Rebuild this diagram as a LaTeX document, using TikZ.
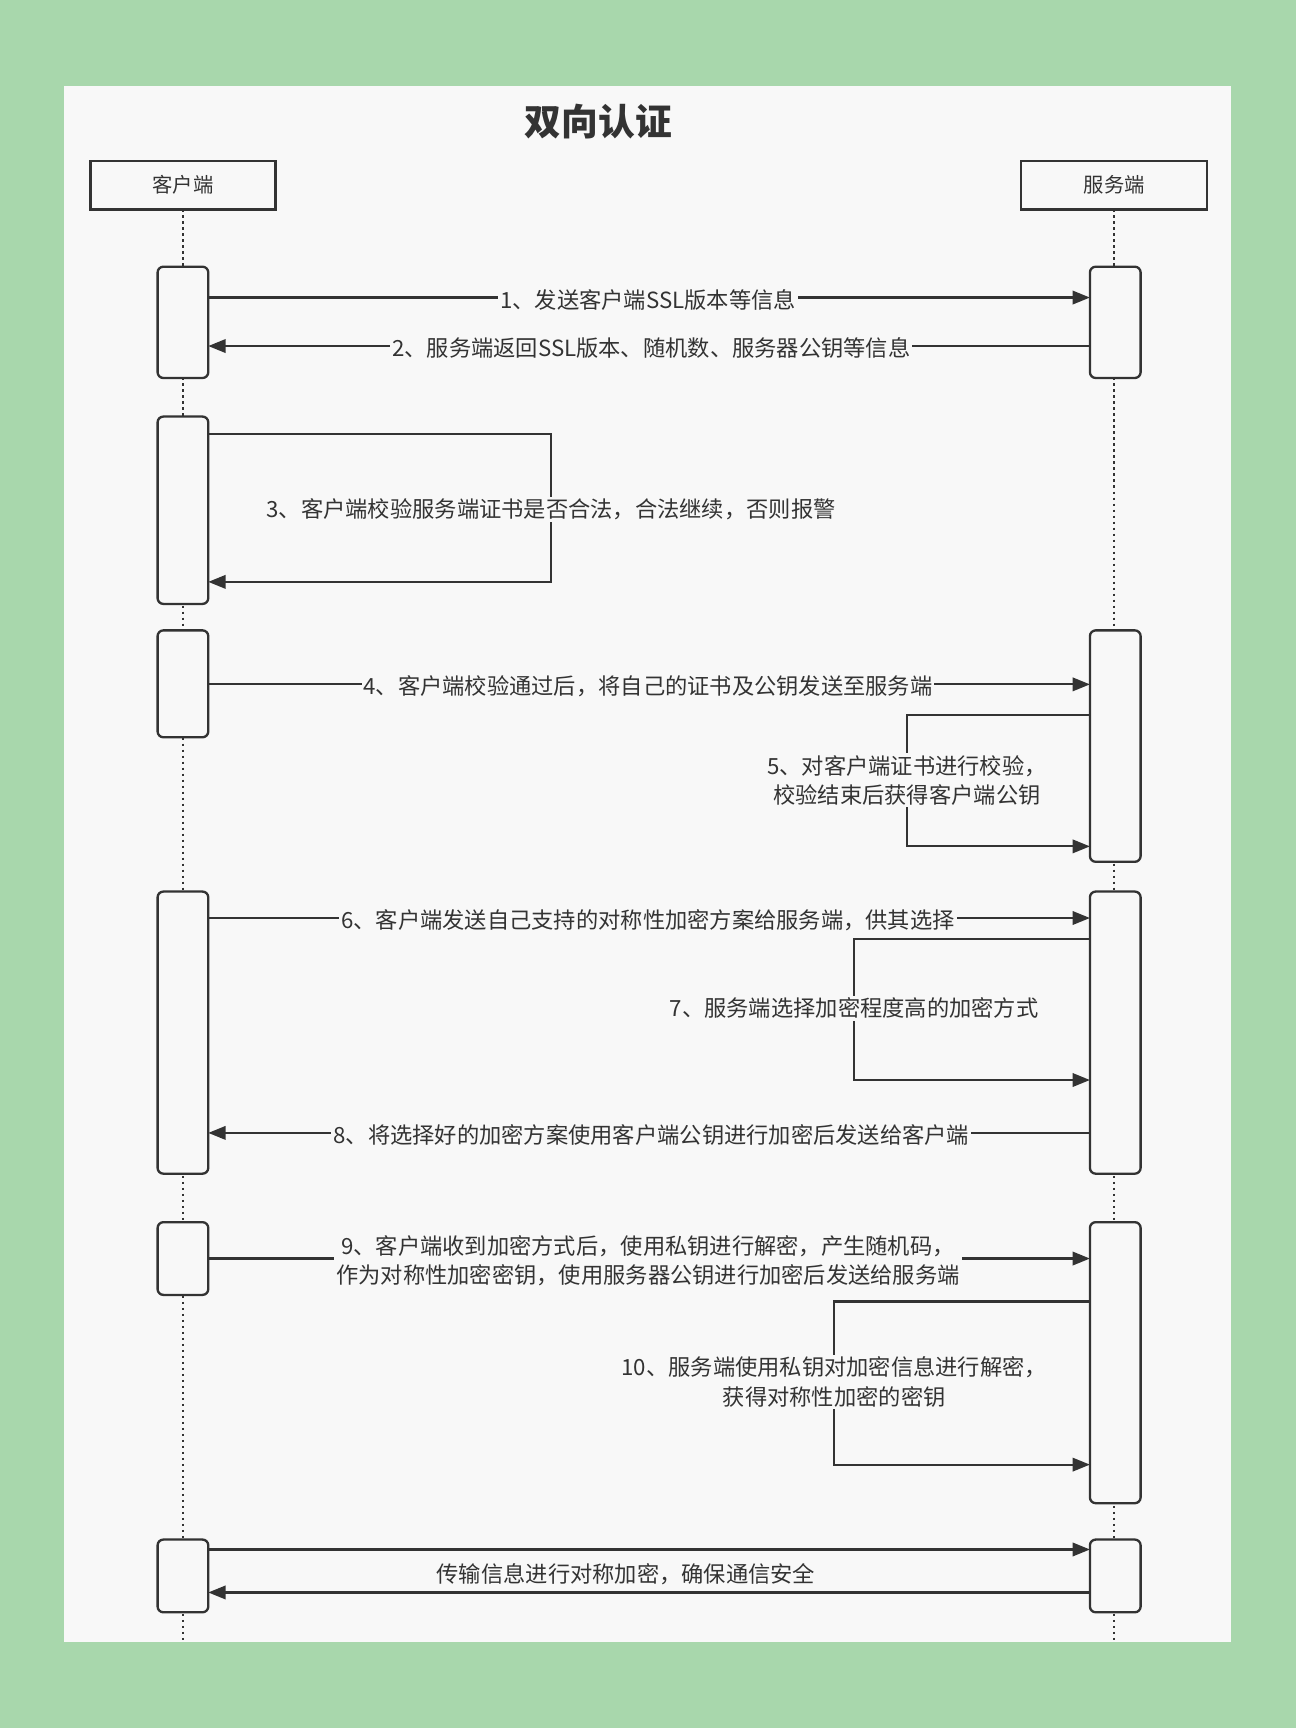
\documentclass[tikz,border=0pt]{standalone}
\usepackage{fontspec}
\setmainfont{Noto Sans CJK SC}
\usetikzlibrary{arrows.meta}
\definecolor{bgg}{HTML}{A8D7AC}
\definecolor{panel}{HTML}{F8F8F8}
\definecolor{ink}{HTML}{333333}
\tikzset{
 act/.style={draw=ink,line width=1.2pt,fill=panel,rounded corners=3pt},
 msg/.style={draw=ink,line width=1.1pt,-{Triangle[length=9pt,width=7pt]}},
 lbl/.style={fill=panel,text=ink,font=\fontsize{11.5}{15}\selectfont,inner sep=1pt,align=center},
 head/.style={draw=ink,line width=1.2pt,fill=panel,font=\fontsize{10.5}{12}\selectfont,text=ink},
 life/.style={draw=ink,line width=1.1pt,dotted}
}
\begin{document}
\begin{tikzpicture}[x=0.02cm,y=-0.02cm]
\fill[bgg] (0,0) rectangle (1176,1568);
\useasboundingbox (0,0) rectangle (1176,1568);
\fill[panel] (58,78) rectangle (1117,1490);
\node[font=\bfseries\fontsize{19}{22}\selectfont,text=ink] (title) at (543,110) {双向认证};
\draw[life] (166,190) -- (166,1490);
\draw[life] (1011,190) -- (1011,1490);
\node[head,minimum width=3.36cm,minimum height=0.88cm] (cl) at (166,168) {客户端};
\node[head,minimum width=3.38cm,minimum height=0.88cm] (sv) at (1011,168) {服务端};
% activations
\foreach \a/\b/\n in {242/343/c1,378/548/c2,572/669/c3,809/1065/c4,1109/1175/c5,1397/1463/c6}
  {\draw[act] (143,\a) rectangle (189,\b); \coordinate (\n) at (166,\a);}
\foreach \a/\b/\n in {242/343/s1,572/782/s3,809/1065/s4,1109/1364/s5,1397/1463/s6}
  {\draw[act] (989,\a) rectangle (1035,\b); \coordinate (\n) at (1011,\a);}
% 1
\coordinate (a1) at (189,270); \coordinate (b1) at (989,270);
\draw[msg] (a1) -- (b1);
\node[lbl] (l1) at (588,272) {1、发送客户端SSL版本等信息};
% 2
\coordinate (a2) at (989,314); \coordinate (b2) at (189,314);
\draw[msg] (a2) -- (b2);
\node[lbl] (l2) at (591,316) {2、服务端返回SSL版本、随机数、服务器公钥等信息};
% 3
\coordinate (a3) at (189,394); \coordinate (b3) at (189,528);
\draw[msg] (a3) -- (500,394) -- (500,528) -- (b3);
\node[lbl] (l3) at (500,462) {3、客户端校验服务端证书是否合法，合法继续，否则报警};
% 4
\coordinate (a4) at (189,621); \coordinate (b4) at (989,621);
\draw[msg] (a4) -- (b4);
\node[lbl] (l4) at (588,623) {4、客户端校验通过后，将自己的证书及公钥发送至服务端};
% 5
\coordinate (a5) at (989,649); \coordinate (b5) at (989,768);
\draw[msg] (a5) -- (823,649) -- (823,768) -- (b5);
\node[lbl] (l5) at (823,708) {5、对客户端证书进行校验，\\校验结束后获得客户端公钥};
% 6
\coordinate (a6) at (189,833); \coordinate (b6) at (989,833);
\draw[msg] (a6) -- (b6);
\node[lbl] (l6) at (588,835) {6、客户端发送自己支持的对称性加密方案给服务端，供其选择};
% 7
\coordinate (a7) at (989,852); \coordinate (b7) at (989,980);
\draw[msg] (a7) -- (775,852) -- (775,980) -- (b7);
\node[lbl] (l7) at (775,915) {7、服务端选择加密程度高的加密方式};
% 8
\coordinate (a8) at (989,1028); \coordinate (b8) at (189,1028);
\draw[msg] (a8) -- (b8);
\node[lbl] (l8) at (591,1030) {8、将选择好的加密方案使用客户端公钥进行加密后发送给客户端};
% 9
\coordinate (a9) at (189,1142); \coordinate (b9) at (989,1142);
\draw[msg] (a9) -- (b9);
\node[lbl] (l9) at (588,1144) {9、客户端收到加密方式后，使用私钥进行解密，产生随机码，\\作为对称性加密密钥，使用服务器公钥进行加密后发送给服务端};
% 10
\coordinate (a10) at (989,1181); \coordinate (b10) at (989,1329);
\draw[msg] (a10) -- (757,1181) -- (757,1329) -- (b10);
\node[lbl] (l10) at (757,1254) {10、服务端使用私钥对加密信息进行解密，\\获得对称性加密的密钥};
% 11
\coordinate (a11) at (189,1406); \coordinate (b11) at (989,1406);
\draw[msg] (a11) -- (b11);
\coordinate (a12) at (989,1445); \coordinate (b12) at (189,1445);
\draw[msg] (a12) -- (b12);
\node[lbl,fill=none] (l11) at (568,1428) {传输信息进行对称加密，确保通信安全};
\end{tikzpicture}
\end{document}
